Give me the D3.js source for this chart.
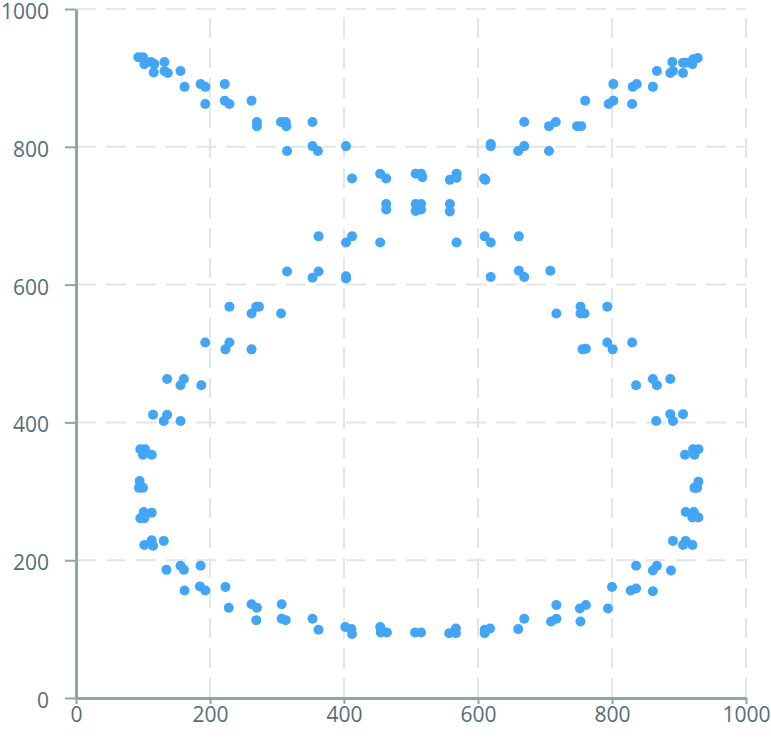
<!DOCTYPE html>
<html>
<head>
<meta charset="utf-8">
<script src="https://cdn.jsdelivr.net/npm/d3@7"></script>
<style>
  body { margin: 0; background: #fff; }
  .tick text { font-family: "Open Sans", sans-serif; font-size: 21px; fill: #546e7a; }
</style>
</head>
<body>
<div id="chart"></div>
<script>
// upper horns, left and right
var hornLeft = [
  [93,930],[100,930],[102,920],[112,923],[117,920],[132,923],[116,908],[132,910],[137,907],
  [156,910],[162,887],[186,891],[193,887],[222,891],[193,862],[222,867],[229,862],[262,867],
  [270,836],[270,830],[306,836],[313,836],[314,830],[353,836],[315,794],[353,801],[361,794],[403,801]
];
var hornRight = [
  [921,927],[928,929],[920,920],[906,922],[910,922],[890,923],[906,907],[891,910],[887,907],
  [867,910],[861,887],[837,891],[831,887],[802,891],[830,862],[802,867],[795,862],[760,867],
  [754,830],[748,830],[716,836],[706,830],[669,836],[669,801],[660,794],[706,794],[619,801],[619,804]
];
// the crossing in the middle
var cross = [
  [412,754],[454,761],[463,754],[507,761],[515,761],[517,756],[558,752],[568,761],[568,755],[609,754],[611,752],
  [463,717],[463,709],[507,717],[507,707],[515,717],[515,709],[558,717],[558,706],
  [362,670],[403,661],[412,670],[454,661],[568,661],[610,670],[619,661],[661,670],
  [315,619],[353,610],[362,619],[403,612],[403,609],[619,611],[661,620],[669,611],[708,620]
];
// the ring
var ringLeft = [
  [229,568],[269,568],[273,568],[262,558],[306,558],
  [193,516],[229,516],[223,506],[262,506],
  [136,463],[161,463],[156,454],[187,454],
  [115,411],[136,411],[131,402],[156,402],
  [96,361],[103,361],[100,353],[113,353],
  [95,315],[94,305],[100,305],
  [101,270],[113,269],[96,261],[102,261],
  [113,229],[131,228],[102,222],[115,221],
  [135,186],[156,192],[161,186],[186,192],
  [162,156],[185,162],[193,156],[223,161]
];
var ringRight = [
  [717,558],[753,568],[759,558],[753,558],[793,568],
  [756,506],[761,507],[793,516],[801,506],[830,516],
  [836,454],[861,463],[867,454],[887,463],
  [866,402],[887,412],[891,402],[906,412],
  [909,353],[921,361],[929,361],[923,353],
  [929,314],[923,305],[927,305],
  [910,270],[922,270],[920,262],[929,262],
  [891,228],[910,228],[906,222],[920,222],
  [836,192],[861,185],[867,192],[888,185],
  [800,161],[828,156],[836,159],[861,155]
];
var ringBottom = [
  [228,131],[262,136],[270,131],[307,136],
  [717,135],[752,130],[761,135],[794,130],
  [269,113],[307,115],[313,113],[353,115],
  [669,115],[709,111],[717,115],[753,111],
  [362,99],[402,103],[411,100],[412,93],[454,103],[455,95],[464,95],
  [506,95],[515,95],[557,94],[567,101],[567,94],[610,99],[610,94],[618,101],[660,100]
];
var ticks = [0, 200, 400, 600, 800, 1000];

var margin = {top: 9, right: 25, bottom: 49, left: 76},
    width = 771 - margin.left - margin.right,
    height = 747 - margin.top - margin.bottom;

var svg = d3.select("#chart")
  .append("svg")
    .attr("width", 771)
    .attr("height", 747)
  .append("g")
    .attr("transform", "translate(" + margin.left + "," + margin.top + ")");

var x = d3.scaleLinear().domain([0, 1000]).range([0, width]);
var y = d3.scaleLinear().domain([0, 1000]).range([height, 0]);

// dashed grid
svg.append("g").selectAll("line")
  .data(ticks.slice(1))
  .join("line")
    .attr("x1", function(d) { return x(d) }).attr("x2", function(d) { return x(d) })
    .attr("y1", height).attr("y2", 0)
    .attr("stroke", "#e1e6ea").attr("stroke-width", 2)
    .attr("stroke-dasharray", "20,10");
svg.append("g").selectAll("line")
  .data(ticks.slice(1))
  .join("line")
    .attr("x1", 0).attr("x2", width)
    .attr("y1", function(d) { return y(d) }).attr("y2", function(d) { return y(d) })
    .attr("stroke", "#e1e6ea").attr("stroke-width", 2)
    .attr("stroke-dasharray", "20,10");

// axes
var fmt = d3.format("d");
var xAxis = svg.append("g")
  .attr("transform", "translate(0," + height + ")")
  .call(d3.axisBottom(x).tickValues(ticks).tickFormat(fmt).tickSize(6).tickPadding(3).tickSizeOuter(0));
var yAxis = svg.append("g")
  .call(d3.axisLeft(y).tickValues(ticks).tickFormat(fmt).tickSize(11).tickPadding(16).tickSizeOuter(0));
yAxis.selectAll(".tick text").attr("dy", "0.45em");
[xAxis, yAxis].forEach(function(a) {
  a.select(".domain").attr("stroke", "#90a4ae").attr("stroke-width", 3);
  a.selectAll(".tick line").attr("stroke", "#90a4ae").attr("stroke-width", 2);
});

// points
var all = hornLeft.concat(hornRight, cross, ringLeft, ringRight, ringBottom);
svg.append("g").selectAll("circle")
  .data(all)
  .join("circle")
    .attr("cx", function(d) { return x(d[0]) })
    .attr("cy", function(d) { return y(d[1]) })
    .attr("r", 5)
    .attr("fill", "#42a5f5");
</script>
</body>
</html>
